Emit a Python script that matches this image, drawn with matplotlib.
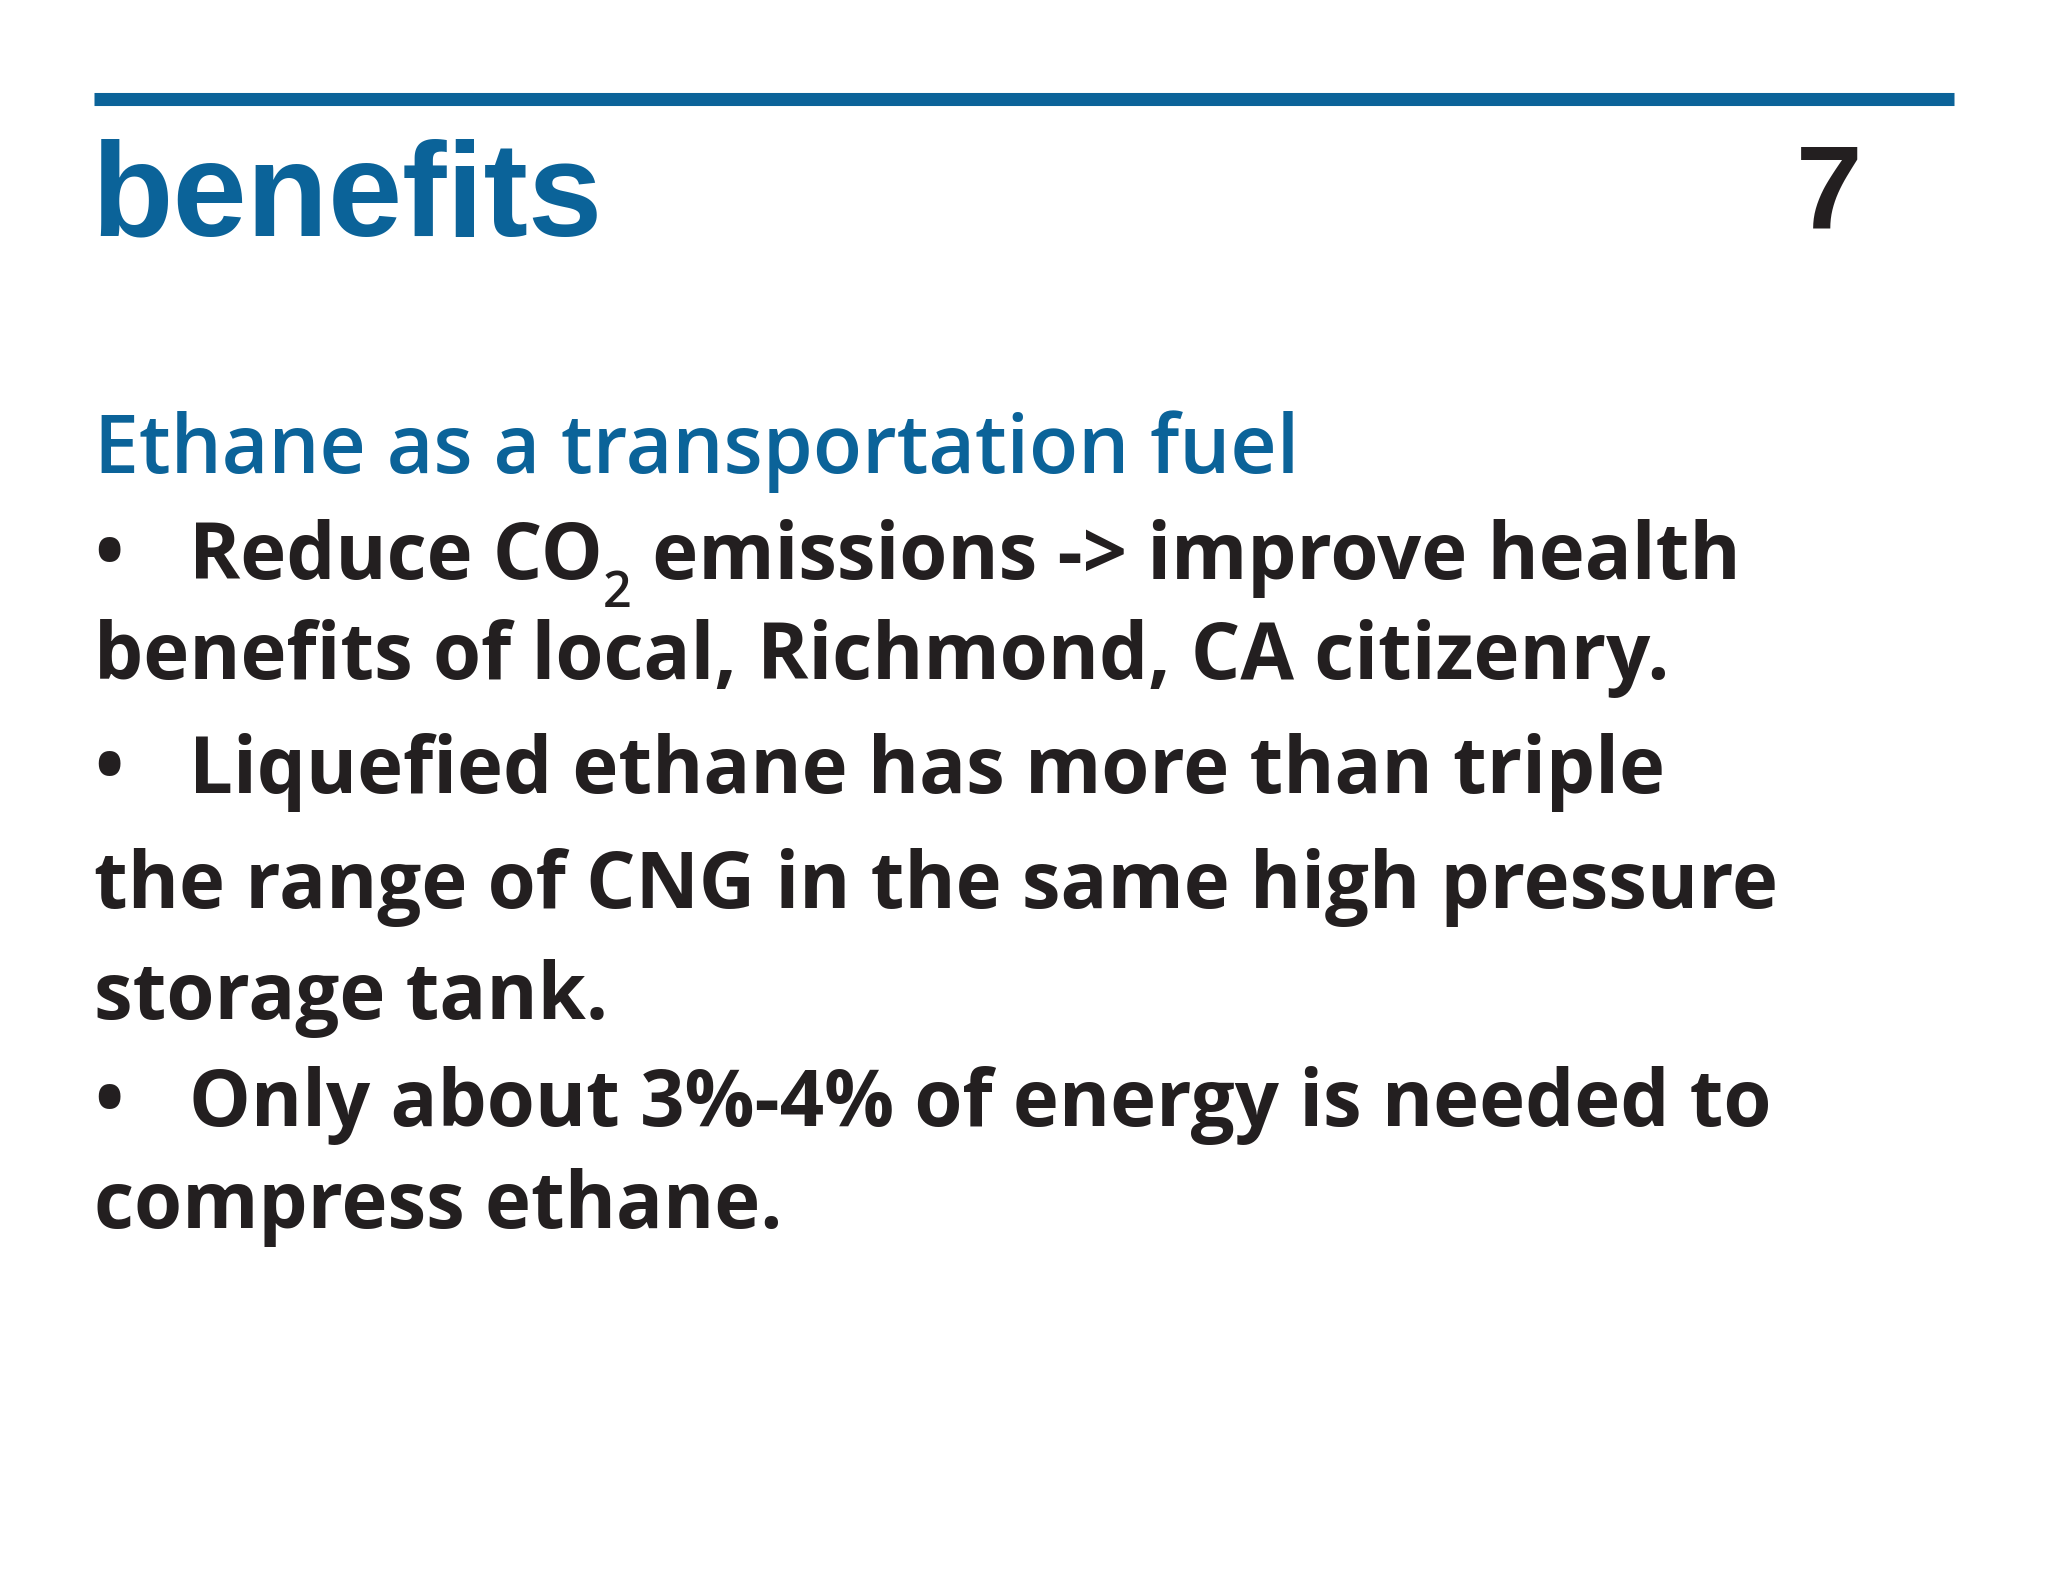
import matplotlib.pyplot as plt

W, H = 2048, 1582
BLUE = '#0b6399'
DARK = '#231f20'
SC = 2048 / 1568

title = 'benefits'
page_no = '7'
heading = 'Ethane as a transportation fuel'
# (bullet?, text, baseline y in reference px)
body_lines = [
    (True, 'Reduce CO', 443),
    (False, 'benefits of local, Richmond, CA citizenry.', 520),
    (True, 'Liquefied ethane has more than triple', 607),
    (False, 'the range of CNG in the same high pressure', 695),
    (False, 'storage tank.', 780),
    (True, 'Only about 3%-4% of energy is needed to', 862),
    (False, 'compress ethane.', 940),
]
co2_tail = ' emissions -> improve health'

fig = plt.figure(figsize=(W / 100, H / 100), dpi=100)
fig.patch.set_facecolor('white')


def fx(x):
    return x * SC / W


def fy(y):
    return 1 - y * SC / H


# top rule
fig.add_artist(plt.Line2D([fx(72), fx(1496)], [fy(76), fy(76)],
                          color=BLUE, lw=10 * SC * 0.72, solid_capstyle='butt'))

fig.text(fx(70), fy(180), title, color=BLUE, fontsize=96,
         fontfamily='Liberation Sans', fontweight='bold', va='baseline')
fig.text(fx(1426), fy(174), page_no, color=DARK, fontsize=86,
         fontfamily='Liberation Sans', fontweight='bold', va='baseline', ha='right')

body_font = dict(fontfamily='Open Sans', fontweight='bold', fontsize=56, va='baseline')
fig.text(fx(72), fy(362), heading, color=BLUE, fontfamily='Open Sans',
         fontweight='semibold', fontsize=58, va='baseline')

fig.canvas.draw()
renderer = fig.canvas.get_renderer()
for bullet, txt, y in body_lines:
    if bullet:
        fig.text(fx(72), fy(y), '•', color=DARK, **body_font)
        x0 = 145
    else:
        x0 = 72
    t = fig.text(fx(x0), fy(y), txt, color=DARK, **body_font)
    if txt == 'Reduce CO':
        bb = t.get_window_extent(renderer)
        xr = bb.x1 / W
        s = fig.text(xr, fy(y + 22), '2', color=DARK,
                     fontfamily='Open Sans', fontweight='semibold', fontsize=36, va='baseline')
        bb2 = s.get_window_extent(renderer)
        fig.text(bb2.x1 / W, fy(y), co2_tail, color=DARK, **body_font)

fig.savefig('out.png', dpi=100, facecolor='white')
